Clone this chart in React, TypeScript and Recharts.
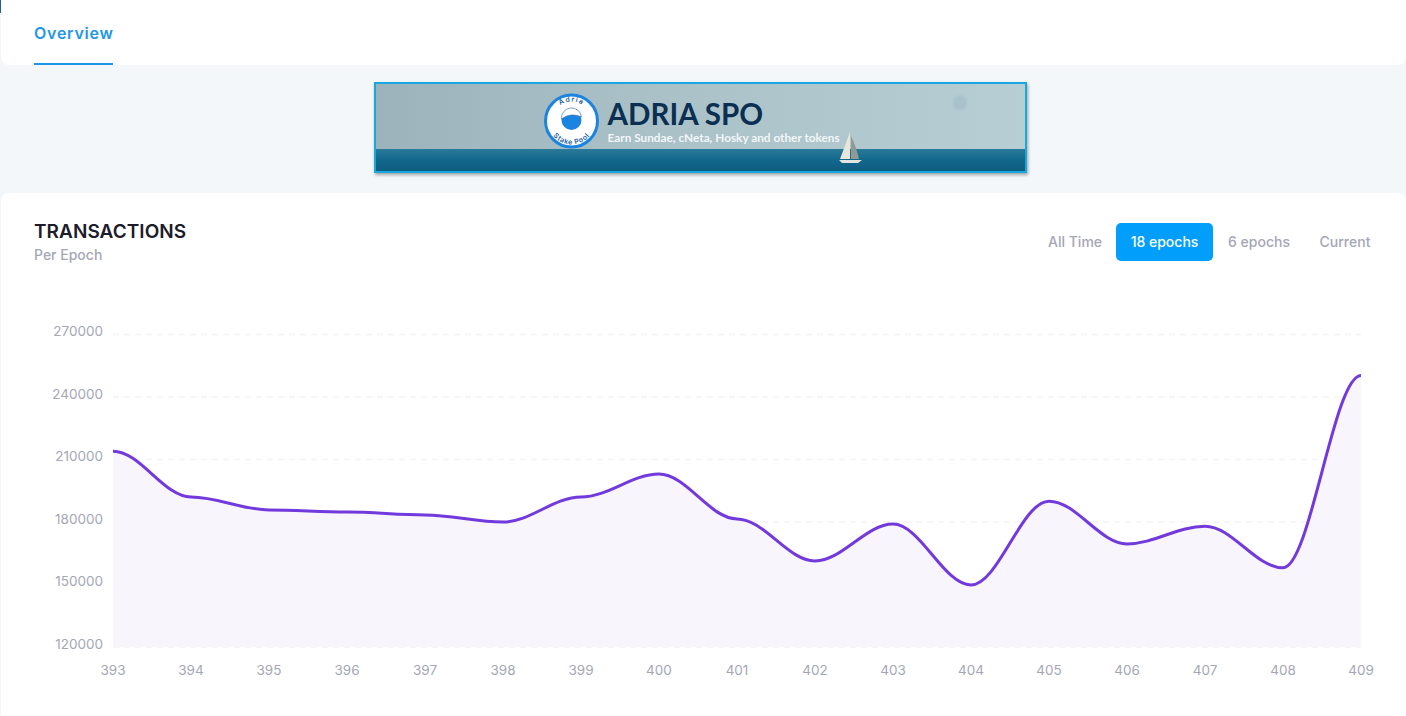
import React from "react";
import { AreaChart, Area, XAxis, YAxis, CartesianGrid } from "recharts";

const epochs = ["393","394","395","396","397","398","399","400","401","402","403","404","405","406","407","408","409"];
const transactions = [214000,192000,185800,184800,183400,180000,192000,203000,181500,161300,179000,149800,190000,169500,178000,158000,250300];
const yTicks = [120000,150000,180000,210000,240000,270000];
const tabs = ["All Time","18 epochs","6 epochs","Current"];
const rows = epochs.map((epoch, i) => ({ epoch, tx: transactions[i] }));

const FONT = "Inter, 'Noto Sans', sans-serif";
const abs = (left: number, top: number, extra: React.CSSProperties = {}): React.CSSProperties => ({ position: "absolute", left, top, ...extra });

const tabPos = [
  { x: 1048, w: 54 }, { x: 1116, w: 97 }, { x: 1228, w: 62 }, { x: 1319, w: 52 },
];

// Smoothing with a horizontal tangent at every point (control points at 35% of the step).
function flatTangentCurve(context: any) {
  let line = NaN, count = 0, px = 0, py = 0;
  return {
    areaStart() { line = 0; },
    areaEnd() { line = NaN; },
    lineStart() { count = 0; },
    lineEnd() {
      if (line || (line !== 0 && count === 1)) context.closePath();
      line = 1 - line;
    },
    point(x: number, y: number) {
      x = +x; y = +y;
      if (count === 0) {
        if (line) context.lineTo(x, y); else context.moveTo(x, y);
      } else {
        const k = (x - px) * 0.35;
        context.bezierCurveTo(px + k, py, x - k, y, x, y);
      }
      count += 1;
      px = x; py = y;
    },
  };
}

export default function App() {
  return (
    <div style={{ position: "fixed", left: 0, top: 0, width: 1406, height: 716, background: "#f4f7fa", overflow: "hidden", fontFamily: FONT }}>
      <div style={abs(1, -20, { width: 1405, height: 85, background: "#fff", borderRadius: 8 })} />
      <div style={abs(0, 0, { width: 1, height: 13, background: "#1f5f9f" })} />
      <div style={abs(34, 23, { fontSize: 16, fontWeight: 600, color: "#1e96e8", lineHeight: "20px", whiteSpace: "nowrap", letterSpacing: 0.75 })}>Overview</div>
      <div style={abs(34, 63, { width: 79, height: 2, background: "#1e96e8" })} />

      <div style={abs(374, 82, { width: 653, height: 91, boxSizing: "border-box", border: "2.5px solid #17a8e0", boxShadow: "1px 2px 3px rgba(0,0,0,.35)", background: "linear-gradient(90deg,#9db3bc 0%,#a9c0c7 40%,#b6ced4 100%)", overflow: "hidden" })}>
        <div style={{ position: "absolute", left: 0, right: 0, top: 65, bottom: 0, background: "linear-gradient(180deg,#2a7a99,#11688c 50%,#0e5c80)" }} />
        <div style={{ position: "absolute", left: 577, top: 12, width: 14, height: 14, borderRadius: 7, background: "#a9c1ca", filter: "blur(1px)" }} />
        <svg style={{ position: "absolute", left: 167, top: 8 }} width={60} height={60}>
          <defs>
            <path id="arcTop" d="M9 29 A19.5 19.5 0 0 1 48 29" />
            <path id="arcBottom" d="M5 29 A23.5 23.5 0 0 0 52 29" />
          </defs>
          <circle cx={28.5} cy={29} r={26} fill="#fff" stroke="#1b84e0" strokeWidth={3} />
          <circle cx={28.5} cy={28} r={10} fill="#1b84e0" />
          <path d="M18.5 27 Q28 20 38.5 25 A10 10 0 0 0 18.5 27 Z" fill="#fff" stroke="#1b5f9f" strokeWidth={0.6} />
          <text fontSize={7} fontWeight={600} fill="#1b5f9f" letterSpacing={1.2} textAnchor="middle"><textPath href="#arcTop" startOffset="50%">Adria</textPath></text>
          <text fontSize={7} fontWeight={600} fill="#1b5f9f" letterSpacing={0.6} textAnchor="middle"><textPath href="#arcBottom" startOffset="50%">Stake Pool</textPath></text>
        </svg>
        <div style={{ position: "absolute", left: 231.5, top: 12, fontSize: 29.5, fontWeight: 700, color: "#0b2f52", lineHeight: "36px", whiteSpace: "nowrap", fontFamily: "Lato, sans-serif" }}>ADRIA SPO</div>
        <div style={{ position: "absolute", left: 231.5, top: 47, fontSize: 11.8, fontWeight: 700, color: "#f2f6f8", lineHeight: "14px", whiteSpace: "nowrap", fontFamily: "Lato, sans-serif" }}>Earn Sundae, cNeta, Hosky and other tokens</div>
        <svg style={{ position: "absolute", left: 460, top: 46 }} width={30} height={36}>
          <path d="M14 2 L14 29 L4 29 Q9 16 14 2 Z" fill="#e8e6dc" />
          <path d="M15 6 L15 29 L23 29 Q20 16 15 6 Z" fill="#8f9a96" />
          <path d="M3 30 L26 30 L22 33 L6 33 Z" fill="#e6e6e0" />
        </svg>
      </div>

      <div style={abs(1, 193, { width: 1405, height: 540, background: "#fff", borderRadius: 8 })} />
      <div style={abs(34, 220, { fontSize: 19, fontWeight: 600, color: "#1c1c2b", lineHeight: "24px", whiteSpace: "nowrap", letterSpacing: 0.05 })}>TRANSACTIONS</div>
      <div style={abs(34, 247, { fontSize: 14, fontWeight: 500, color: "#a5a7b5", lineHeight: "16px", whiteSpace: "nowrap" })}>Per Epoch</div>

      {tabs.map((t, i) => i === 1 ? (
        <div key={t} style={abs(tabPos[i].x, 223, { width: tabPos[i].w, height: 38, lineHeight: "37px", background: "#019ffb", color: "#fff", borderRadius: 5, textAlign: "center", fontSize: 14, fontWeight: 500 })}>{t}</div>
      ) : (
        <div key={t} style={abs(tabPos[i].x, 223, { width: tabPos[i].w, height: 38, lineHeight: "37px", color: "#a5a7b5", textAlign: "center", fontSize: 14, fontWeight: 500, whiteSpace: "nowrap" })}>{t}</div>
      ))}

      <div style={abs(0, 300)}>
        <AreaChart width={1406} height={400} data={rows} margin={{ top: 34.5, right: 45, bottom: 23, left: 0 }}>
          <CartesianGrid vertical={false} stroke="#f3f4f7" strokeWidth={1.5} strokeDasharray="6 5" />
          <XAxis dataKey="epoch" interval={0} axisLine={false} tickLine={false} tickMargin={12} padding={{ left: 0, right: 0 }}
            tick={{ fill: "#a5a7b5", fontSize: 13.5, fontFamily: FONT }} />
          <YAxis type="number" domain={[120000, 270000]} ticks={yTicks} axisLine={false} tickLine={false} width={113}
            tick={{ fill: "#a5a7b5", fontSize: 13.5, fontFamily: FONT, dy: -3, dx: -2 }} />
          <Area dataKey="tx" type={flatTangentCurve as any} stroke="#7239dc" strokeWidth={3} fill="#f8f5fd" fillOpacity={1} isAnimationActive={false} dot={false} activeDot={false} />
        </AreaChart>
      </div>
    </div>
  );
}
